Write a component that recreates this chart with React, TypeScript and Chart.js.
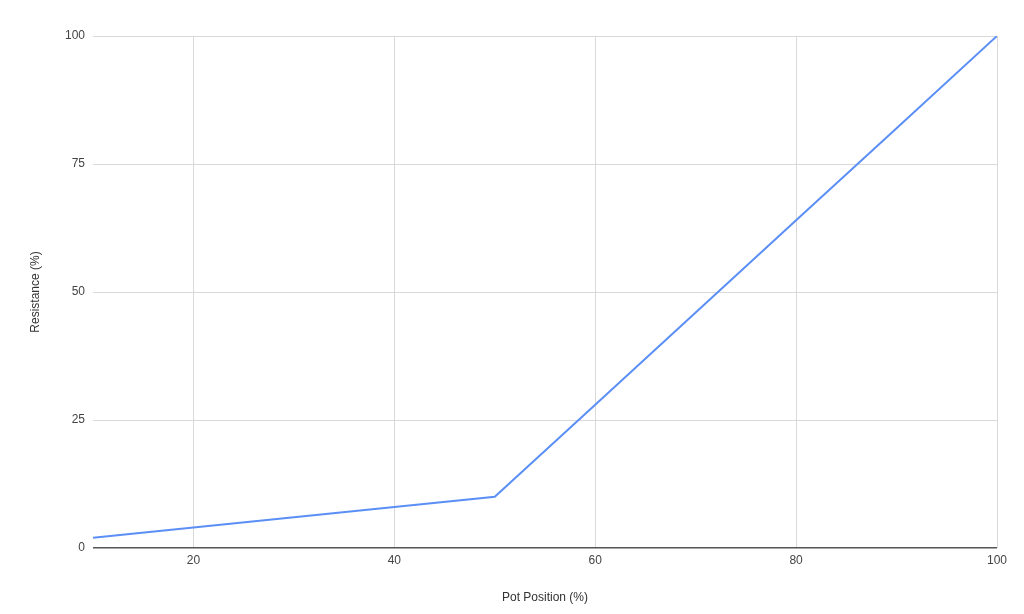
import React, { useEffect, useRef } from "react";
import { Chart, registerables } from "chart.js";

Chart.register(...registerables);

const potPosition = [10, 20, 30, 40, 50, 60, 70, 80, 90, 100];
const resistance = [2, 4, 6, 8, 10, 28, 46, 64, 82, 100];
const xTicks = [20, 40, 60, 80, 100];
const yTicks = [0, 25, 50, 75, 100];

export default function App() {
  const ref = useRef<HTMLCanvasElement | null>(null);
  useEffect(() => {
    if (!ref.current) return;
    const font = { family: "'Liberation Sans', Arial, sans-serif", size: 12 };
    const chart = new Chart(ref.current, {
      type: "scatter",
      data: {
        datasets: [
          {
            label: "Resistance (%)",
            data: potPosition.map((x, i) => ({ x, y: resistance[i] })),
            showLine: true,
            borderColor: "#5b8ff6",
            backgroundColor: "#5b8ff6",
            borderWidth: 2,
            pointRadius: 0,
            pointHoverRadius: 0,
            tension: 0,
          },
        ],
      },
      options: {
        animation: false,
        responsive: true,
        maintainAspectRatio: false,
        layout: { padding: { left: 0, top: 36, right: 27, bottom: 0 } },
        plugins: { legend: { display: false }, tooltip: { enabled: false } },
        scales: {
          x: {
            type: "linear",
            min: 10,
            max: 100,
            afterBuildTicks: (scale: any) => {
              scale.ticks = xTicks.map((v) => ({ value: v }));
            },
            afterFit: (scale: any) => {
              scale.height = 66;
            },
            border: { display: false },
            grid: { color: "#d9d9d9", drawTicks: false, lineWidth: 1 },
            ticks: { color: "#444", font, padding: 5, maxRotation: 0 },
            title: {
              display: true,
              text: "Pot Position (%)",
              color: "#333",
              font,
              padding: { top: 0, bottom: 9 },
            },
          },
          y: {
            type: "linear",
            min: 0,
            max: 100,
            afterBuildTicks: (scale: any) => {
              scale.ticks = yTicks.map((v) => ({ value: v }));
            },
            afterFit: (scale: any) => {
              scale.width = 93;
            },
            border: { display: false },
            grid: {
              color: (c: any) => (c.tick && c.tick.value === 0 ? "#555" : "#d9d9d9"),
              lineWidth: (c: any) => (c.tick && c.tick.value === 0 ? 1.5 : 1),
              drawTicks: false,
            },
            ticks: { color: "#444", font, padding: 8 },
            title: {
              display: true,
              text: "Resistance (%)",
              color: "#333",
              font,
              padding: { top: 28, bottom: 0 },
            },
          },
        },
      },
    });
    return () => chart.destroy();
  }, []);
  return (
    <div style={{ position: "fixed", left: 0, top: 0, width: 1024, height: 614, background: "#fff" }}>
      <canvas ref={ref} />
    </div>
  );
}
